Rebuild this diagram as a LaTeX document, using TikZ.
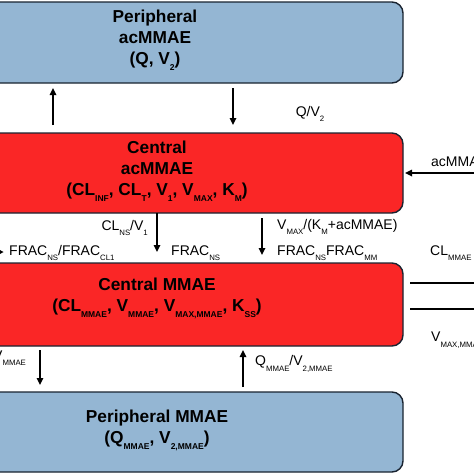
\documentclass[tikz,border=0pt]{standalone}
\usepackage{fontspec}
\setmainfont{Liberation Sans}
\usetikzlibrary{arrows.meta}
\definecolor{pblue}{RGB}{148,182,211}
\definecolor{cred}{RGB}{250,38,38}
\definecolor{edgec}{RGB}{25,35,48}
\newcommand{\bs}[1]{\raisebox{-0.32em}{\fontsize{8.5}{8.5}\selectfont #1}}
\newcommand{\ls}[1]{\raisebox{-0.4em}{\fontsize{7.8}{7.8}\selectfont #1}}
\begin{document}
\begin{tikzpicture}[x=1pt,y=-1pt,
  box/.style={draw=edgec, line width=1.4pt, rounded corners=11pt, inner sep=0pt, outer sep=0pt, minimum width=423pt},
  btxt/.style={align=center, font=\fontsize{17.3}{21}\selectfont\bfseries, inner sep=0pt},
  ltxt/.style={font=\fontsize{14}{16}\selectfont, inner sep=0pt},
  arr/.style={-{Triangle[length=7pt,width=6.5pt]}, line width=1.6pt, black},
  plain/.style={line width=1.6pt, black}]
\useasboundingbox (0,0) rectangle (474,474);
% boxes
\node[box, fill=pblue, minimum height=81pt] (P1) at (191.5,42.5) {};
\node[box, fill=cred, minimum height=80pt] (C1) at (191.5,173) {};
\node[box, fill=cred, minimum height=83pt] (C2) at (191.5,304.5) {};
\node[box, fill=pblue, minimum height=80pt] (P2) at (191.5,432) {};
% box texts
\node[btxt] (P1t) at (155,40) {Peripheral\\acMMAE\\(Q, V\bs{2})};
\node[btxt] (C1t) at (157,171) {Central\\acMMAE\\(CL\bs{INF}, CL\bs{T}, V\bs{1}, V\bs{MAX}, K\bs{M})};
\node[btxt] (C2t) at (157,298.5) {Central MMAE\\(CL\bs{MMAE}, V\bs{MMAE}, V\bs{MAX,MMAE}, K\bs{SS})};
\node[btxt] (P2t) at (157,430.5) {Peripheral MMAE\\(Q\bs{MMAE}, V\bs{2,MMAE})};
% connector x positions
\coordinate (xa) at (53,0);
\coordinate (xb) at (233,0);
\coordinate (xc) at (157,0);
\coordinate (xd) at (262,0);
\coordinate (xe) at (40,0);
\coordinate (xf) at (243,0);
\coordinate (in1) at (490,173);
\coordinate (out1) at (490,283);
\coordinate (out2) at (490,309);
% arrows
\draw[arr, shorten <=8pt, shorten >=5pt] (C1.north -| xa) -- (P1.south -| xa);
\draw[arr, shorten <=5pt, shorten >=8pt] (P1.south -| xb) -- (C1.north -| xb);
\draw[arr, shorten >=11pt] (C1.south -| xc) -- (C2.north -| xc);
\draw[arr, shorten <=5pt, shorten >=8pt] (C1.south -| xd) -- (C2.north -| xd);
\draw[arr, shorten <=4pt, shorten >=7pt] (C2.south -| xe) -- (P2.north -| xe);
\draw[arr, shorten <=5pt, shorten >=4pt] (P2.north -| xf) -- (C2.south -| xf);
\draw[arr, shorten >=2pt] (in1) -- (C1.east |- in1);
\draw[plain, shorten <=7pt] (C2.east |- out1) -- (out1);
\draw[plain, shorten <=7pt] (C2.east |- out2) -- (out2);
% labels
\node[ltxt] (l1) at (310,114) {Q/V\ls{2}};
\node[ltxt, anchor=west] (l2) at (431,162) {acMMAE};
\node[ltxt, anchor=east] (l3) at (148,228) {CL\ls{NS}/V\ls{1}};
\node[ltxt, anchor=west] (l4) at (277,227) {V\ls{MAX}/(K\ls{M}+acMMAE)};
\node[ltxt, anchor=west] (l5) at (9,253) {FRAC\ls{NS}/FRAC\ls{CL1}};
\node[ltxt, anchor=west] (l6) at (171,253) {FRAC\ls{NS}};
\node[ltxt, anchor=west] (l7) at (277,253) {FRAC\ls{NS}FRAC\ls{MM}};
\node[ltxt, anchor=west] (l8) at (430,253) {CL\ls{MMAE}};
\node[ltxt, anchor=west] (l9) at (431,340) {V\ls{MAX,MMAE}};
\node[ltxt, anchor=west] (l10) at (-7,358) {V\ls{MMAE}};
\node[ltxt, anchor=west] (l11) at (255,364) {Q\ls{MMAE}/V\ls{2,MMAE}};
\fill (-1,249.5) -- (3.5,252) -- (-1,254.5) -- cycle;
\end{tikzpicture}
\end{document}
